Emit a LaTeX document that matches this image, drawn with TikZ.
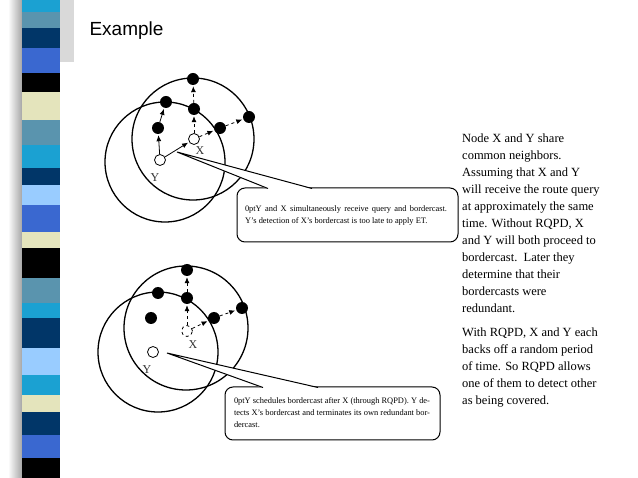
\documentclass[tikz,border=0pt]{standalone}
\usepackage{fontspec}
\setmainfont{Liberation Serif}
\newfontfamily\titlefont{Liberation Sans}
\usetikzlibrary{arrows.meta}
\definecolor{cy}{HTML}{1BA1D2}
\definecolor{st}{HTML}{5A94AE}
\definecolor{nv}{HTML}{013668}
\definecolor{rb}{HTML}{3A68D0}
\definecolor{bg}{HTML}{E4E4BC}
\definecolor{lb}{HTML}{99CCFF}
\begin{document}
\begin{tikzpicture}[x=1pt,y=-1pt,
  filled/.style={circle,fill=black,inner sep=0pt,minimum size=12pt},
  opennode/.style={circle,draw,thick,fill=white,inner sep=0pt,minimum size=11pt},
  rangecirc/.style={draw,line width=1.3pt},
  link/.style={thick,-{Latex[length=6pt,width=5pt]},shorten >=1pt},
  dlink/.style={link,dashed},
  lbl/.style={font=\fontsize{12}{12}\selectfont,text=black!80},
  callout/.style={draw,line width=1pt,rounded corners=8pt,fill=white},
  calltext/.style={font=\fontsize{8.4}{12}\selectfont\hyphenpenalty=10000,text width=202pt,align=justify},
  para/.style={font=\fontsize{12.5}{17}\selectfont,align=left,anchor=north west,inner sep=0pt}]
\useasboundingbox (0,0) rectangle (638,478);
% stripe shadow
\shade[left color=white,right color=black!35] (8,0) rectangle (22,478);
\fill[black!15] (60,0) rectangle (74,62);
% stripe
\foreach \a/\b/\c in {0/12/cy,12/28/st,28/48/nv,48/73/rb,73/92/black,92/120/bg,120/145/st,145/168/cy,168/185/nv,185/205/lb,205/232/rb,232/248/bg,248/278/black,278/303/st,303/318/cy,318/348/nv,348/375/lb,375/395/cy,395/412/bg,412/435/nv,435/458/rb,458/478/black}
  \fill[\c] (22,\a) rectangle (60,\b);
\node[anchor=west,font=\titlefont\fontsize{19}{19}\selectfont] (title) at (86,31) {Example};
% ---------- top diagram
\coordinate (cy1) at (165,162);
\coordinate (cx1) at (193,139);
\draw[rangecirc] (cy1) circle (60);
\draw[rangecirc] (cx1) circle (61);
\node[filled] (a1) at (158,128) {};
\node[filled] (b1) at (166,102) {};
\node[filled] (c1) at (194,109) {};
\node[filled] (d1) at (193,79) {};
\node[filled] (e1) at (220,128) {};
\node[filled] (f1) at (249,117) {};
\node[opennode] (x1) at (194,139) {};
\node[opennode] (y1) at (160,160) {};
\draw[link] (y1) -- (a1);
\draw[link] (a1) -- (b1);
\draw[link] (y1) -- (x1);
\draw[dlink] (x1) -- (c1);
\draw[dlink] (c1) -- (d1);
\draw[dlink] (x1) -- (e1);
\draw[dlink] (e1) -- (f1);
\node[lbl] (lx1) at (200,151) {X};
\node[lbl] (ly1) at (155,178) {Y};
\draw[callout] (237,188) rectangle (458,242);
\coordinate (tip1) at (177,152);
\fill[white] (tip1) -- (268,189) -- (312,189) -- cycle;
\draw[line width=1pt] (268,188.5) -- (tip1) -- (312,188.5);
\node[calltext] (t1) at (346,215) {Y and X simultaneously receive query and bordercast.\ \ \ Y's detection of X's bordercast is too late to apply ET.};
% ---------- bottom diagram
\coordinate (cy2) at (158,352);
\coordinate (cx2) at (186,328);
\draw[rangecirc] (cy2) circle (60);
\draw[rangecirc] (cx2) circle (62);
\node[filled] (p2) at (151,318) {};
\node[filled] (q2) at (158,293) {};
\node[filled] (c2) at (187,298) {};
\node[filled] (d2) at (187,270) {};
\node[filled] (e2) at (214,318) {};
\node[filled] (f2) at (242,308) {};
\node[opennode,dashed] (x2) at (187,331) {};
\node[opennode] (y2) at (153,352) {};
\draw[dlink] (x2) -- (c2);
\draw[dlink] (c2) -- (d2);
\draw[dlink] (x2) -- (e2);
\draw[dlink] (e2) -- (f2);
\node[lbl] (lx2) at (193,345) {X};
\node[lbl] (ly2) at (147,370) {Y};
\draw[callout] (225,387) rectangle (440,440);
\coordinate (tip2) at (167,353);
\fill[white] (tip2) -- (263,388) -- (318,388) -- cycle;
\draw[line width=1pt] (263,387.5) -- (tip2) -- (318,387.5);
\node[calltext,text width=196pt] (t2) at (332,413) {Y schedules bordercast after X (through RQPD). Y detects X's bordercast and terminates its own redundant bordercast.};
% ---------- right text
\node[para] (p1) at (462,134) {Node X and Y share\\common neighbors.\\Assuming that X and Y\\will receive the route query\\at approximately the same\\time. Without RQPD, X\\and Y will both proceed to\\bordercast.\ \ Later they\\determine that their\\bordercasts were\\redundant.};
\node[para] (p2) at (462,328) {With RQPD, X and Y each\\backs off a random period\\of time. So RQPD allows\\one of them to detect other\\as being covered.};
\end{tikzpicture}
\end{document}
